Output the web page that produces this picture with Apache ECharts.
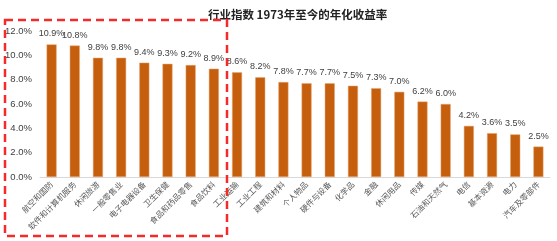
<!DOCTYPE html>
<html>
<head>
<meta charset="utf-8">
<script src="https://cdn.jsdelivr.net/npm/echarts@6/dist/echarts.min.js"></script>
<style>
  html, body { margin: 0; padding: 0; background: #fff; }
  #chart { width: 557px; height: 241px; }
</style>
</head>
<body>
<div id="chart"></div>
<script>
// 各行业 1973年至今 年化收益率 (%)
var industries = ['航空和国防', '软件和计算机服务', '休闲旅游', '一般零售业', '电子电器设备', '卫生保健',
    '食品和药品零售', '食品饮料', '工业运输', '工业工程', '建筑和材料', '个人物品', '硬件与设备',
    '化学品', '金融', '休闲用品', '传媒', '石油和天然气', '电信', '基本资源', '电力', '汽车及零部件'];
var returns = [10.9, 10.8, 9.8, 9.8, 9.4, 9.3, 9.2, 8.9, 8.6, 8.2, 7.8, 7.7, 7.7,
    7.5, 7.3, 7.0, 6.2, 6.0, 4.2, 3.6, 3.5, 2.5];
var yTicks = [0, 2, 4, 6, 8, 10, 12];

var font = '"Noto Sans CJK SC", sans-serif';
var myChart = echarts.init(document.getElementById('chart'));

var option = {
    title: {
        text: '行业指数 1973年至今的年化收益率',
        left: 203,
        top: 4,
        textStyle: { fontSize: 11.5, fontWeight: 'bold', color: '#222', fontFamily: font }
    },
    grid: { left: 40, right: 7, top: 31, bottom: 64 },
    xAxis: {
        type: 'category',
        data: industries,
        axisLine: { lineStyle: { color: '#d9d9d9' } },
        axisTick: { show: false },
        axisLabel: {
            interval: 0,
            rotate: 45,
            fontSize: 8,
            color: '#595959',
            margin: 6,
            fontFamily: font
        }
    },
    yAxis: {
        type: 'value',
        min: yTicks[0],
        max: yTicks[yTicks.length - 1],
        interval: 2,
        splitLine: { show: false },
        axisLine: { show: false },
        axisTick: { show: false },
        axisLabel: {
            fontSize: 9.5,
            color: '#404040',
            margin: 8,
            fontFamily: 'Liberation Sans, sans-serif',
            formatter: function (v) { return v.toFixed(1) + '%'; }
        }
    },
    series: [{
        type: 'bar',
        data: returns,
        barWidth: 10,
        itemStyle: { color: '#c55f0e', borderColor: '#e9a56e', borderWidth: 0.5 },
        label: {
            show: true,
            position: 'top',
            distance: 6,
            fontSize: 9,
            color: '#404040',
            fontFamily: 'Liberation Sans, sans-serif',
            formatter: function (p) { return p.value.toFixed(1) + '%'; }
        }
    }],
    graphic: [{
        type: 'rect',
        shape: { x: 5, y: 20, width: 222, height: 216 },
        style: { fill: 'none', stroke: '#f52a2a', lineWidth: 2.5, lineDash: [8, 5] },
        z: 100
    }]
};
myChart.setOption(option);
</script>
</body>
</html>
